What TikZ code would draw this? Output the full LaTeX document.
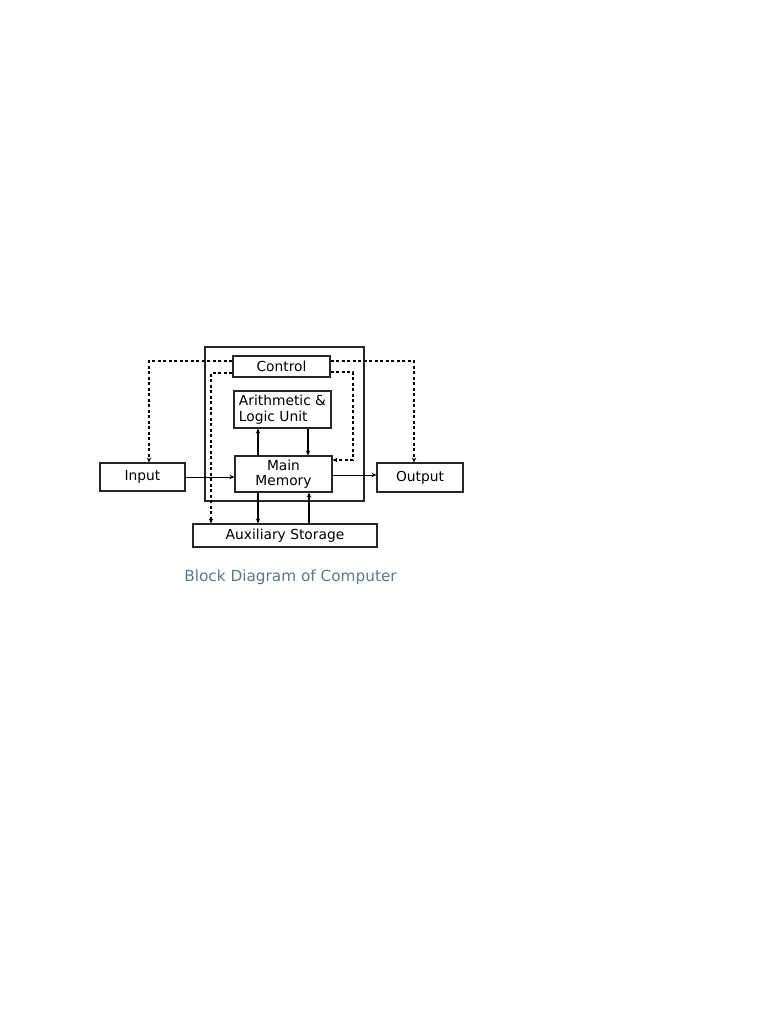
\documentclass[tikz,border=0pt]{standalone}
\usepackage{fontspec}
\setmainfont{DejaVu Sans}
\usetikzlibrary{arrows.meta}
\definecolor{capblue}{HTML}{58798F}
\begin{document}
\begin{tikzpicture}[x=1pt,y=-1pt,
  blk/.style={draw=black!85,line width=1.1pt,inner sep=0pt,font=\fontsize{13.8}{15.5}\selectfont},
  dashline/.style={line width=1.7pt,dash pattern=on 3pt off 2.5pt,-{Stealth[length=5pt,width=4.5pt]}},
  sline/.style={line width=1.3pt,-{Stealth[length=5pt,width=4.5pt]}},
  hline/.style={line width=0.9pt,-{Stealth[length=5pt,width=4.5pt]}}]
\useasboundingbox (0,0) rectangle (768,1024);
\node[draw=black!85,line width=1.1pt,minimum width=159pt,minimum height=154pt,inner sep=0pt] (outer) at (284.5,424) {};
\node[blk,minimum width=97pt,minimum height=21pt] (ctrl) at (281.5,366.5) {Control};
\node[blk,minimum width=97pt,minimum height=37pt,align=left] (alu) at (282.5,409.5) {Arithmetic \&\\Logic Unit};
\node[blk,minimum width=97pt,minimum height=36pt,align=center] (mem) at (283.5,474) {Main\\Memory};
\node[blk,minimum width=85pt,minimum height=28pt] (input) at (142.5,477) {Input};
\node[blk,minimum width=86pt,minimum height=29pt] (output) at (420,477.5) {Output};
\node[blk,minimum width=184pt,minimum height=23pt] (aux) at (285,535.5) {Auxiliary Storage};
\coordinate (c1) at (353,460);
\draw[dashline] ([yshift=5.5pt]ctrl.west) -| ([xshift=6.5pt]input.north);
\draw[dashline] ([yshift=-6.5pt]ctrl.west) -| ([xshift=-74pt]aux.north);
\draw[dashline] ([yshift=5.5pt]ctrl.east) -| ([xshift=-6pt]output.north);
\draw[dashline] ([yshift=-5.5pt]ctrl.east) -| (c1) -- (c1 -| mem.east);
\draw[sline] ([xshift=-25.5pt]mem.north) -- ([xshift=-25.5pt]mem.north |- alu.south);
\draw[sline] ([xshift=25.5pt]alu.south) -- ([xshift=25.5pt]alu.south |- mem.north);
\draw[sline] ([xshift=-25.5pt]mem.south) -- ([xshift=-25.5pt]mem.south |- aux.north);
\draw[sline] ([xshift=25.5pt]mem.south |- aux.north) -- ([xshift=25.5pt]mem.south);
\draw[hline] (input.east) -- (input.east -| mem.west);
\draw[hline] ([yshift=-1pt]mem.east) -- ([yshift=-1pt]mem.east -| output.west);
\node[text=capblue,font=\fontsize{15.3}{17}\selectfont] (cap) at (290.5,577) {Block Diagram of Computer};
\end{tikzpicture}
\end{document}
